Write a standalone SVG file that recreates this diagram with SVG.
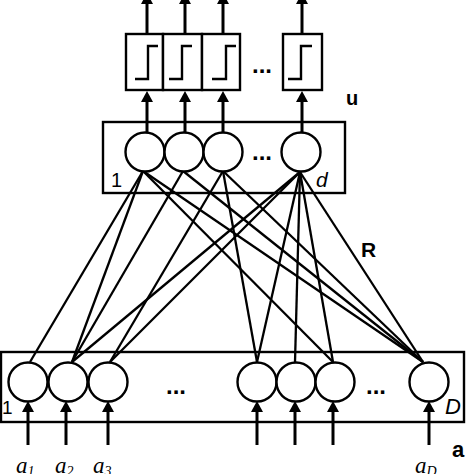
<svg xmlns="http://www.w3.org/2000/svg" width="474" height="474" viewBox="0 0 474 474">
<defs>
<marker id="ah" viewBox="0 0 11 12" markerWidth="11" markerHeight="12" refX="0" refY="6" orient="auto" markerUnits="userSpaceOnUse">
<path d="M0,0 L11,6 L0,12 z" fill="#000"/>
</marker>
<style>
.box{fill:#fff;stroke:#000;stroke-width:2.4}
.nd{fill:#fff;stroke:#000;stroke-width:2.4}
.ed{stroke:#000;stroke-width:2.3;fill:none}
.ar{stroke:#000;stroke-width:3;fill:none;marker-end:url(#ah)}
.st{stroke:#000;stroke-width:2.4;fill:none}
.lb{font-family:"Liberation Sans",Arial,sans-serif;fill:#000}
.bl{font-family:"Liberation Sans",Arial,sans-serif;font-weight:bold;fill:#000}
.it{font-family:"Liberation Serif","Times New Roman",serif;font-style:italic;fill:#000}
</style>
</defs>
<rect width="474" height="474" fill="#fff"/>

<!-- boxes -->
<rect class="box" x="1" y="352" width="463" height="70"/>
<rect class="box" x="103" y="122" width="242" height="71"/>

<!-- connectors -->
<g id="connectors">
<line class="ed" x1="143" y1="171" x2="30" y2="362"/>
<line class="ed" x1="143" y1="171" x2="72" y2="362"/>
<line class="ed" x1="143" y1="171" x2="333" y2="362"/>
<line class="ed" x1="143" y1="171" x2="423" y2="362"/>
<line class="ed" x1="183" y1="171" x2="72" y2="362"/>
<line class="ed" x1="183" y1="171" x2="423" y2="362"/>
<line class="ed" x1="223" y1="171" x2="110" y2="362"/>
<line class="ed" x1="223" y1="171" x2="257" y2="362"/>
<line class="ed" x1="223" y1="171" x2="423" y2="362"/>
<line class="ed" x1="300" y1="172" x2="72" y2="362"/>
<line class="ed" x1="300" y1="172" x2="110" y2="362"/>
<line class="ed" x1="300" y1="172" x2="257" y2="362"/>
<line class="ed" x1="300" y1="172" x2="295" y2="362"/>
<line class="ed" x1="300" y1="172" x2="333" y2="362"/>
<line class="ed" x1="300" y1="172" x2="423" y2="362"/>
<!-- hidden to steps -->
<line class="ar" x1="147" y1="133" x2="147" y2="102"/>
<line class="ar" x1="185" y1="133" x2="185" y2="102"/>
<line class="ar" x1="223" y1="133" x2="223" y2="102"/>
<line class="ar" x1="302" y1="133" x2="302" y2="102"/>
<!-- outputs -->
<line class="ar" x1="147" y1="34" x2="147" y2="4"/>
<line class="ar" x1="185" y1="34" x2="185" y2="4"/>
<line class="ar" x1="223" y1="34" x2="223" y2="4"/>
<line class="ar" x1="302" y1="34" x2="302" y2="4"/>
<!-- inputs -->
<line class="ar" x1="28" y1="445" x2="28" y2="412"/>
<line class="ar" x1="66" y1="445" x2="66" y2="412"/>
<line class="ar" x1="108" y1="445" x2="108" y2="412"/>
<line class="ar" x1="257" y1="445" x2="257" y2="412"/>
<line class="ar" x1="295" y1="445" x2="295" y2="412"/>
<line class="ar" x1="333" y1="445" x2="333" y2="412"/>
<line class="ar" x1="429" y1="445" x2="429" y2="412"/>
</g>

<!-- step units -->
<g id="step1"><rect class="box" x="126" y="34" width="37" height="56"/><path class="st" d="M135,79 H148 V46 H158"/></g>
<g id="step2"><rect class="box" x="163" y="34" width="39" height="56"/><path class="st" d="M169,79 H182 V46 H192"/></g>
<g id="step3"><rect class="box" x="202" y="34" width="38" height="56"/><path class="st" d="M212,79 H226 V46 H236"/></g>
<g id="stepd"><rect class="box" x="283" y="34" width="39" height="56"/><path class="st" d="M288,79 H301 V46 H312"/></g>
<text class="bl" x="252" y="73" font-size="24">...</text>

<!-- hidden nodes -->
<g id="h1"><circle class="nd" cx="145" cy="152" r="19.5"/></g>
<g id="h2"><circle class="nd" cx="184" cy="152" r="19.5"/></g>
<g id="h3"><circle class="nd" cx="223" cy="152" r="19.5"/></g>
<g id="hd"><circle class="nd" cx="301" cy="152" r="19.5"/></g>
<text class="bl" x="252" y="160" font-size="24">...</text>
<text class="lb" x="111" y="187" font-size="20">1</text>
<text class="lb" x="316" y="187" font-size="21" font-style="italic">d</text>

<!-- input nodes -->
<g id="i1"><circle class="nd" cx="28" cy="382" r="19.5"/></g>
<g id="i2"><circle class="nd" cx="68" cy="382" r="19.5"/></g>
<g id="i3"><circle class="nd" cx="108" cy="382" r="19.5"/></g>
<g id="i4"><circle class="nd" cx="257" cy="382" r="19.5"/></g>
<g id="i5"><circle class="nd" cx="296" cy="382" r="19.5"/></g>
<g id="i6"><circle class="nd" cx="335" cy="382" r="19.5"/></g>
<g id="iD"><circle class="nd" cx="429" cy="382" r="19.5"/></g>
<text class="bl" x="166" y="394" font-size="24">...</text>
<text class="bl" x="366" y="394" font-size="24">...</text>
<text class="lb" x="2" y="414" font-size="19">1</text>
<text class="lb" x="445" y="414" font-size="22" font-style="italic">D</text>

<!-- labels -->
<text class="bl" x="346" y="105" font-size="20">u</text>
<text class="bl" x="361" y="257" font-size="21">R</text>
<text class="bl" x="452" y="457" font-size="22">a</text>
<text class="it" x="16" y="473" font-size="23">a<tspan font-size="14" dy="3">1</tspan></text>
<text class="it" x="55" y="473" font-size="23">a<tspan font-size="14" dy="3">2</tspan></text>
<text class="it" x="93" y="473" font-size="23">a<tspan font-size="14" dy="3">3</tspan></text>
<text class="it" x="415" y="473" font-size="23">a<tspan font-size="14" dy="3">D</tspan></text>
</svg>
